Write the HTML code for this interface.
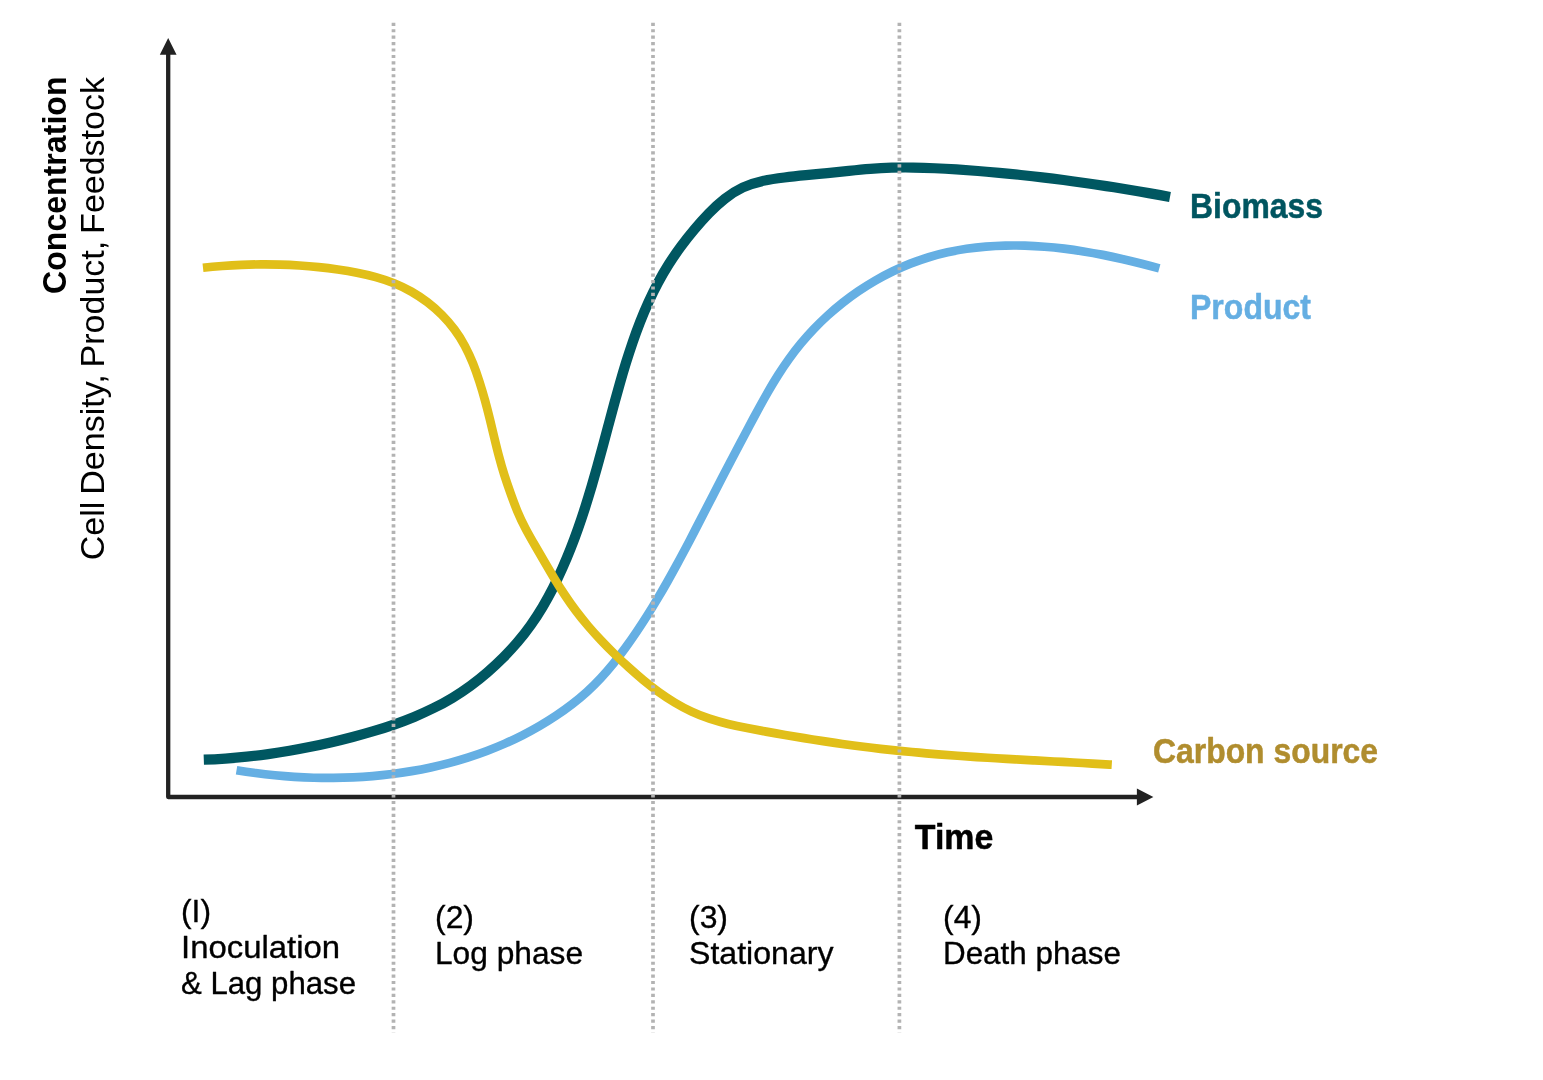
<!DOCTYPE html>
<html lang="en">
<head>
<meta charset="utf-8">
<title>Batch fermentation growth phases</title>
<style>
html,body{margin:0;padding:0;background:#fff;}
body{width:1543px;height:1080px;overflow:hidden;}
svg{display:block;}
text{font-family:"Liberation Sans",Arial,Helvetica,sans-serif;}
.b{font-weight:700;}
.ph{font-size:32px;fill:#000;stroke:#000;stroke-width:0.35px;stroke-linejoin:round;}
.lg{font-size:34px;font-weight:700;}
.rb{font-size:35.2px;stroke-width:0.5px;stroke-linejoin:round;}
</style>
</head>
<body>
<svg width="1543" height="1080" viewBox="0 0 1543 1080">
<rect width="1543" height="1080" fill="#ffffff"/>
<!-- axes -->
<path d="M168.2 54 V797 H1138" fill="none" stroke="#222222" stroke-width="4.3" stroke-linejoin="round"/>
<path d="M168.2 38 L176.6 54.8 L159.8 54.8 Z" fill="#222222"/>
<path d="M1153.4 797 L1136.9 805.4 L1136.9 788.6 Z" fill="#222222"/>
<!-- curves -->
<path d="M203.79 759.67C211.00 759.42 218.19 759.05 225.36 758.55C232.53 758.05 239.69 757.43 246.83 756.68C253.96 755.94 261.09 755.07 268.19 754.09C275.30 753.11 282.38 752.01 289.45 750.81C296.52 749.60 303.58 748.28 310.61 746.85C317.65 745.42 324.66 743.89 331.66 742.25C338.66 740.62 345.65 738.88 352.61 737.04C359.58 735.21 366.53 733.27 373.43 731.20C380.33 729.14 387.19 726.94 393.98 724.57C400.77 722.20 407.49 719.66 414.12 716.92C420.74 714.18 427.27 711.24 433.67 708.05C440.08 704.87 446.36 701.45 452.50 697.76C458.63 694.06 464.62 690.09 470.43 685.82C476.25 681.56 481.89 677.02 487.35 672.28C492.81 667.54 498.10 662.61 503.18 657.54C508.27 652.47 513.15 647.24 517.79 641.80C522.42 636.37 526.81 630.72 530.94 624.87C535.08 619.02 538.97 612.98 542.64 606.80C546.32 600.61 549.78 594.28 553.06 587.85C556.33 581.42 559.42 574.88 562.34 568.29C565.27 561.69 568.04 555.05 570.67 548.37C573.30 541.68 575.79 534.96 578.17 528.20C580.56 521.45 582.83 514.65 585.01 507.84C587.19 501.02 589.29 494.17 591.32 487.30C593.35 480.43 595.31 473.54 597.24 466.63C599.16 459.72 601.04 452.80 602.91 445.86C604.78 438.93 606.63 431.99 608.48 425.04C610.34 418.09 612.20 411.14 614.10 404.19C615.99 397.23 617.91 390.28 619.89 383.35C621.87 376.41 623.91 369.49 626.04 362.60C628.17 355.71 630.39 348.85 632.73 342.05C635.07 335.25 637.53 328.51 640.15 321.83C642.77 315.16 645.54 308.56 648.50 302.05C651.46 295.55 654.60 289.14 657.96 282.84C661.33 276.54 664.91 270.35 668.74 264.29C672.57 258.24 676.63 252.31 680.91 246.51C685.18 240.71 689.67 235.03 694.34 229.49C699.02 223.94 703.87 218.49 708.92 213.27C713.98 208.05 719.26 203.10 724.87 198.71C730.48 194.32 736.41 190.49 742.77 187.50C749.13 184.52 755.94 182.44 762.97 180.89C770.00 179.34 777.24 178.32 784.45 177.45C791.66 176.58 798.84 175.85 805.99 175.16C813.14 174.47 820.27 173.82 827.41 173.11C834.54 172.40 841.67 171.62 848.81 170.86C855.95 170.11 863.09 169.39 870.24 168.83C877.40 168.26 884.56 167.88 891.74 167.68C898.91 167.49 906.09 167.46 913.28 167.56C920.46 167.67 927.65 167.91 934.83 168.23C942.02 168.56 949.20 168.97 956.38 169.44C963.56 169.91 970.73 170.42 977.89 170.99C985.05 171.56 992.21 172.17 999.36 172.84C1006.51 173.50 1013.66 174.21 1020.80 174.97C1027.94 175.73 1035.07 176.53 1042.20 177.37C1049.33 178.22 1056.45 179.11 1063.57 180.04C1070.69 180.97 1077.80 181.94 1084.91 182.96C1092.02 183.97 1099.12 185.02 1106.22 186.11C1113.32 187.20 1120.41 188.33 1127.50 189.50C1134.59 190.66 1141.68 191.87 1148.76 193.10C1155.84 194.34 1162.92 195.61 1169.99 196.91" fill="none" stroke="#005761" stroke-width="10.2"/>
<path d="M236.52 770.19C242.83 771.24 249.18 772.19 255.57 773.03C261.96 773.88 268.38 774.62 274.84 775.26C281.29 775.89 287.77 776.42 294.26 776.83C300.76 777.25 307.28 777.55 313.81 777.73C320.34 777.91 326.88 777.98 333.42 777.93C339.96 777.87 346.51 777.70 353.05 777.39C359.59 777.09 366.12 776.66 372.64 776.10C379.16 775.54 385.67 774.85 392.16 774.03C398.64 773.20 405.11 772.24 411.54 771.14C417.98 770.04 424.38 768.81 430.75 767.42C437.12 766.04 443.44 764.51 449.73 762.84C456.01 761.16 462.25 759.33 468.43 757.36C474.61 755.38 480.74 753.25 486.81 750.96C492.87 748.67 498.88 746.22 504.81 743.62C510.74 741.01 516.61 738.24 522.39 735.30C528.17 732.36 533.88 729.26 539.50 725.98C545.12 722.71 550.65 719.26 556.08 715.64C561.52 712.02 566.85 708.22 572.02 704.23C577.20 700.24 582.22 696.06 587.04 691.67C591.86 687.29 596.46 682.69 600.88 677.93C605.30 673.16 609.54 668.22 613.64 663.17C617.73 658.11 621.69 652.93 625.53 647.67C629.36 642.40 633.09 637.05 636.73 631.65C640.36 626.25 643.91 620.80 647.38 615.29C650.85 609.79 654.24 604.24 657.56 598.64C660.89 593.05 664.14 587.42 667.35 581.75C670.55 576.09 673.71 570.39 676.82 564.67C679.93 558.95 683.00 553.21 686.04 547.45C689.08 541.69 692.09 535.91 695.09 530.13C698.09 524.34 701.07 518.55 704.04 512.76C707.02 506.96 709.99 501.17 712.97 495.39C715.95 489.60 718.94 483.82 721.93 478.05C724.93 472.28 727.93 466.51 730.95 460.74C733.96 454.98 736.99 449.22 740.02 443.46C743.06 437.70 746.11 431.95 749.18 426.20C752.25 420.45 755.33 414.69 758.45 408.97C761.57 403.24 764.74 397.54 768.00 391.90C771.26 386.25 774.61 380.67 778.09 375.18C781.57 369.69 785.18 364.29 788.97 359.02C792.75 353.75 796.72 348.60 800.86 343.60C805.01 338.60 809.33 333.74 813.82 329.03C818.31 324.32 822.97 319.77 827.78 315.39C832.60 311.00 837.57 306.78 842.69 302.74C847.81 298.70 853.07 294.84 858.47 291.16C863.88 287.49 869.42 284.00 875.08 280.72C880.74 277.44 886.53 274.36 892.41 271.51C898.30 268.66 904.28 266.03 910.34 263.65C916.41 261.26 922.55 259.12 928.75 257.24C934.95 255.36 941.20 253.73 947.51 252.33C953.82 250.93 960.18 249.76 966.58 248.81C972.97 247.86 979.41 247.13 985.87 246.59C992.34 246.06 998.83 245.73 1005.34 245.57C1011.85 245.42 1018.37 245.45 1024.90 245.65C1031.43 245.85 1037.97 246.21 1044.51 246.72C1051.04 247.23 1057.57 247.89 1064.08 248.68C1070.60 249.47 1077.09 250.40 1083.57 251.44C1090.04 252.48 1096.49 253.63 1102.89 254.88C1109.30 256.14 1115.68 257.49 1122.00 258.92C1128.32 260.35 1134.60 261.87 1140.82 263.45C1147.04 265.03 1153.20 266.67 1159.29 268.36" fill="none" stroke="#65afe3" stroke-width="8.7"/>
<path d="M202.98 267.74C209.41 267.05 215.85 266.47 222.28 265.99C228.72 265.51 235.15 265.14 241.58 264.87C248.00 264.61 254.43 264.45 260.86 264.40C267.28 264.36 273.70 264.43 280.12 264.61C286.54 264.79 292.96 265.09 299.37 265.50C305.79 265.92 312.20 266.46 318.60 267.12C325.01 267.78 331.41 268.57 337.81 269.48C344.21 270.39 350.61 271.42 356.95 272.66C363.30 273.89 369.60 275.33 375.80 277.07C382.00 278.80 388.10 280.82 394.05 283.22C400.00 285.62 405.79 288.42 411.39 291.61C416.98 294.80 422.36 298.37 427.48 302.29C432.60 306.21 437.45 310.48 441.98 315.06C446.52 319.63 450.73 324.52 454.56 329.68C458.39 334.84 461.83 340.28 464.87 345.94C467.90 351.60 470.56 357.48 472.95 363.48C475.35 369.48 477.48 375.59 479.46 381.73C481.43 387.86 483.25 394.04 484.96 400.23C486.66 406.43 488.26 412.65 489.79 418.89C491.33 425.13 492.81 431.39 494.31 437.65C495.81 443.90 497.34 450.15 498.98 456.37C500.62 462.59 502.37 468.79 504.31 474.93C506.26 481.07 508.38 487.17 510.56 493.24C512.75 499.31 514.94 505.39 517.39 511.33C519.84 517.27 522.63 523.03 525.62 528.69C528.61 534.35 531.80 539.92 535.03 545.48C538.27 551.04 541.51 556.62 544.76 562.21C548.01 567.80 551.28 573.39 554.63 578.92C557.98 584.45 561.41 589.92 564.97 595.28C568.52 600.65 572.22 605.90 576.09 611.00C579.95 616.11 583.97 621.09 588.12 625.96C592.27 630.83 596.56 635.59 600.97 640.25C605.37 644.92 609.89 649.50 614.51 654.00C619.12 658.51 623.84 662.95 628.64 667.31C633.44 671.68 638.33 675.95 643.34 680.08C648.34 684.21 653.45 688.19 658.68 691.97C663.92 695.74 669.27 699.31 674.77 702.61C680.26 705.91 685.90 708.95 691.68 711.65C697.47 714.36 703.42 716.72 709.51 718.74C715.60 720.77 721.82 722.48 728.11 723.99C734.40 725.50 740.76 726.82 747.11 728.05C753.47 729.29 759.81 730.46 766.13 731.60C772.45 732.75 778.77 733.86 785.10 734.95C791.43 736.04 797.77 737.11 804.12 738.14C810.47 739.18 816.83 740.18 823.19 741.15C829.56 742.12 835.93 743.06 842.31 743.95C848.69 744.85 855.07 745.70 861.46 746.51C867.85 747.32 874.24 748.09 880.64 748.81C887.04 749.53 893.44 750.21 899.84 750.85C906.25 751.49 912.65 752.09 919.06 752.67C925.47 753.24 931.89 753.78 938.30 754.29C944.72 754.80 951.14 755.28 957.56 755.74C963.98 756.20 970.40 756.63 976.82 757.05C983.25 757.47 989.67 757.87 996.10 758.25C1002.53 758.64 1008.95 759.01 1015.38 759.37C1021.81 759.73 1028.24 760.08 1034.67 760.43C1041.10 760.78 1047.53 761.12 1053.95 761.47C1060.38 761.81 1066.81 762.16 1073.24 762.50C1079.67 762.85 1086.09 763.21 1092.52 763.57C1098.95 763.94 1105.37 764.31 1111.79 764.70" fill="none" stroke="#e1bf19" stroke-width="8.7"/>
<!-- phase separators -->
<g stroke="#b3b3b3" stroke-width="3.7" stroke-dasharray="3.15 3.281" fill="none">
<path d="M393.5 22.75 V1032.8"/>
<path d="M653.0 22.75 V1032.8"/>
<path d="M899.4 22.75 V1032.8"/>
</g>
<!-- y label -->
<text class="lg" id="t_conc" transform="translate(65.8 294) rotate(-90)" fill="#000" textLength="217.5" lengthAdjust="spacingAndGlyphs">Concentration</text>
<text id="t_cell" transform="translate(104 560.2) rotate(-90)" fill="#000" font-size="34" word-spacing="-2.5">Cell Density, Product, Feedstock</text>
<!-- legend -->
<text class="lg rb" id="t_bio" x="1190" y="217.8" fill="#005560" stroke="#005560" textLength="133" lengthAdjust="spacingAndGlyphs">Biomass</text>
<text class="lg rb" id="t_prod" x="1190" y="319.2" fill="#64aee2" stroke="#64aee2" textLength="121" lengthAdjust="spacingAndGlyphs">Product</text>
<text class="lg rb" id="t_carb" x="1153" y="763.3" fill="#b08d2e" stroke="#b08d2e" textLength="225" lengthAdjust="spacingAndGlyphs">Carbon source</text>
<text class="lg rb" id="t_time" x="914.8" y="849.2" fill="#000" stroke="#000" textLength="78.5" lengthAdjust="spacingAndGlyphs">Time</text>
<!-- phases -->
<text class="ph" id="p1a" x="181" y="921.7" textLength="30" lengthAdjust="spacingAndGlyphs">(I)</text>
<text class="ph" id="p1b" x="181" y="957.8" textLength="159" lengthAdjust="spacingAndGlyphs">Inoculation</text>
<text class="ph" id="p1c" x="181" y="994.1" textLength="175" lengthAdjust="spacingAndGlyphs">&amp; Lag phase</text>
<text class="ph" id="p2a" x="435" y="927.5" textLength="39" lengthAdjust="spacingAndGlyphs">(2)</text>
<text class="ph" id="p2b" x="435" y="963.7" textLength="148" lengthAdjust="spacingAndGlyphs">Log phase</text>
<text class="ph" id="p3a" x="689" y="927.5" textLength="39" lengthAdjust="spacingAndGlyphs">(3)</text>
<text class="ph" id="p3b" x="689" y="963.7" textLength="144.5" lengthAdjust="spacingAndGlyphs">Stationary</text>
<text class="ph" id="p4a" x="943" y="927.5" textLength="39" lengthAdjust="spacingAndGlyphs">(4)</text>
<text class="ph" id="p4b" x="943" y="963.7" textLength="178" lengthAdjust="spacingAndGlyphs">Death phase</text>
</svg>
</body>
</html>
